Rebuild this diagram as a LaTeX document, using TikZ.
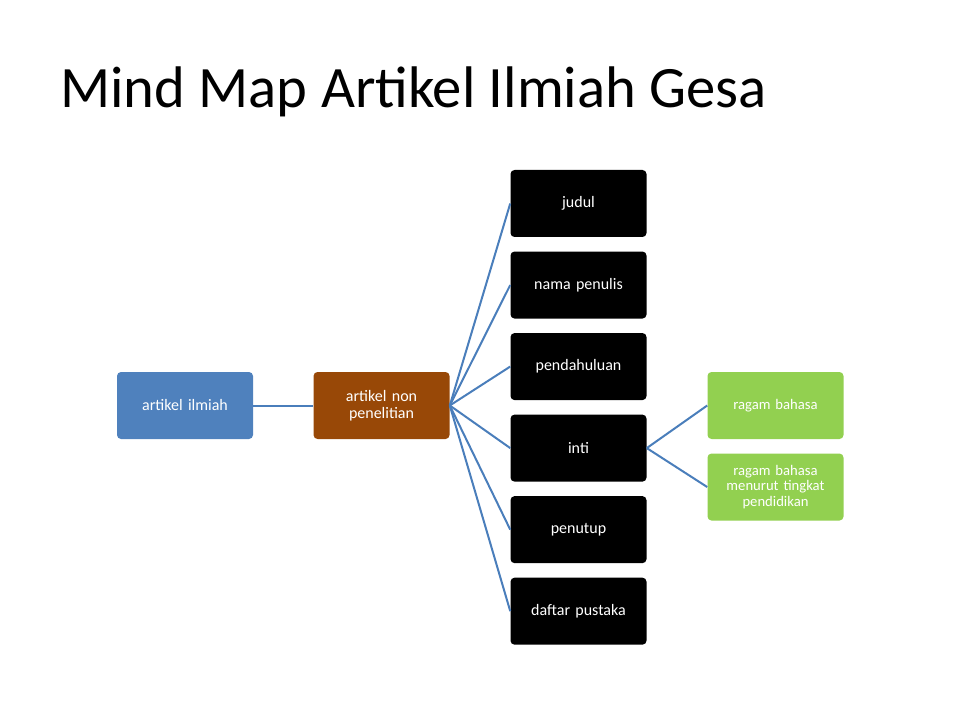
\documentclass[tikz,border=0pt]{standalone}
\usepackage{fontspec}
\setmainfont{Carlito}
\usetikzlibrary{positioning}

\definecolor{rootblue}{HTML}{4F81BD}
\definecolor{midbrown}{HTML}{984807}
\definecolor{leafgreen}{HTML}{92D050}
\definecolor{linkblue}{HTML}{4A7EBB}

\begin{document}
\begin{tikzpicture}[
    x=0.75pt, y=-0.75pt,
    node distance=10.5pt and 45pt,
    box/.style={rectangle, rounded corners=3pt, minimum width=102pt, minimum height=50.25pt,
    text width=95pt, align=center, text=white, font=\fontsize{12}{13}\selectfont, inner sep=0pt},
    root/.style={box, fill=rootblue},
    topic/.style={box, fill=midbrown},
    part/.style={box, fill=black},
    detail/.style={box, fill=leafgreen, font=\fontsize{11}{11.5}\selectfont},
    link/.style={draw=linkblue, line width=1.5pt}
]
\useasboundingbox (0,0) rectangle (960,720);

% Title
\node[anchor=base west, inner sep=0pt, font=\fontsize{44}{50}\selectfont] (title) at (60,108)
    {Mind Map Artikel Ilmiah Gesa};

% Nodes
\node[root] (artikel) at (185,405.5) {artikel ilmiah};
\node[topic, right=of artikel] (nonpenelitian) {artikel non\\penelitian};

\node[part] (judul) at (578.5,203.5) {judul};
\node[part, below=of judul] (nama) {nama penulis};
\node[part, below=of nama] (pendahuluan) {pendahuluan};
\node[part, below=of pendahuluan] (inti) {inti};
\node[part, below=of inti] (penutup) {penutup};
\node[part, below=of penutup] (pustaka) {daftar pustaka};

\node[detail] (ragam) at (775.5,405.5) {ragam bahasa};
\node[detail, below=of ragam] (tingkat) {ragam bahasa\\menurut tingkat\\pendidikan};

% Links
\draw[link] (artikel) -- (nonpenelitian);
\foreach \p in {judul, nama, pendahuluan, inti, penutup, pustaka}
    \draw[link] (nonpenelitian.east) -- (\p.west);
\draw[link] (inti.east) -- (ragam.west);
\draw[link] (inti.east) -- (tingkat.west);

\end{tikzpicture}
\end{document}
